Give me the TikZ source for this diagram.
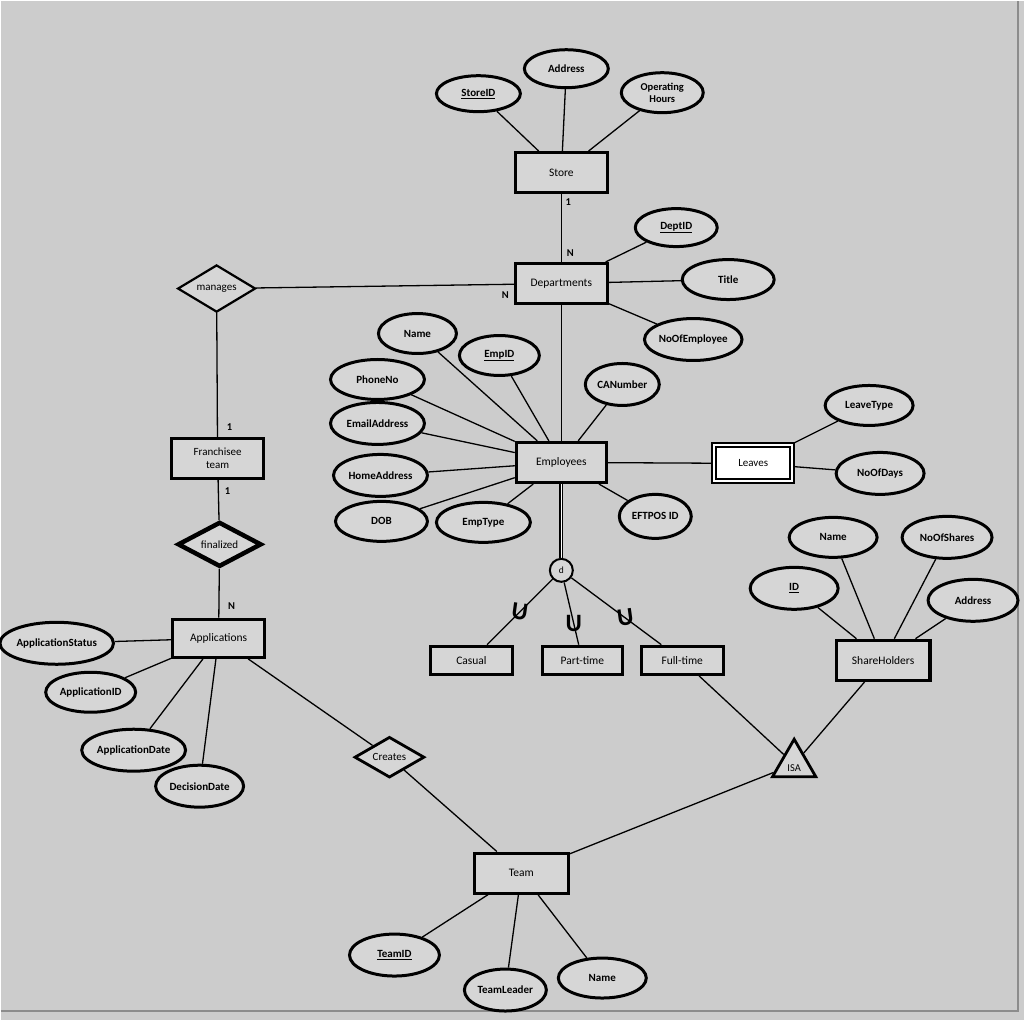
\documentclass[tikz,border=0pt]{standalone}
\usepackage{fontspec}
\setmainfont{Carlito}
\usetikzlibrary{shapes.geometric}
\definecolor{bgc}{RGB}{204,204,204}
\definecolor{shf}{RGB}{214,214,214}
\definecolor{framec}{RGB}{140,140,140}
\pgfdeclarelayer{back}
\pgfdeclarelayer{lines}
\pgfsetlayers{back,lines,main}
\begin{document}
\begin{tikzpicture}[x=1pt,y=-1pt,
 attr/.style={ellipse, draw, line width=3pt, fill=shf, inner sep=0pt, font=\fontsize{11}{11}\selectfont\bfseries, align=center},
 ent/.style={rectangle, draw, line width=3.2pt, fill=shf, inner sep=0pt, font=\fontsize{11.5}{12}\selectfont, align=center},
 rel/.style={diamond, draw, fill=shf, inner sep=0pt, font=\fontsize{11}{12}\selectfont},
 conn/.style={line width=1.3pt},
 card/.style={font=\fontsize{10.5}{11}\selectfont\bfseries, inner sep=0pt},
 subs/.style={font=\fontsize{25}{25}\selectfont\bfseries, inner sep=0pt}
]
\begin{pgfonlayer}{back}
\fill[bgc] (0,0) rectangle (1024,1020);
\draw[framec, line width=1.5pt] (0,1011) -- (1018,1011) -- (1018,0);
\end{pgfonlayer}
\useasboundingbox (0,0) rectangle (1024,1020);

% Store
\node[attr, minimum width=84, minimum height=36] (storeid) at (478,93) {\underline{StoreID}};
\node[attr, minimum width=84, minimum height=38] (saddr) at (566,68) {Address};
\node[attr, minimum width=82, minimum height=40, font=\fontsize{10.5}{11.5}\selectfont\bfseries] (ophours) at (662,92) {Operating\\Hours};
\node[ent, minimum width=92, minimum height=40] (store) at (561,172) {Store};
% Departments
\node[attr, minimum width=82, minimum height=38] (deptid) at (676,227) {\underline{DeptID}};
\node[ent, minimum width=92, minimum height=40] (dept) at (561,283) {Departments};
\node[attr, minimum width=92, minimum height=40] (title) at (728,279) {Title};
\node[attr, minimum width=96, minimum height=42] (noemp) at (693,339) {NoOfEmployee};
% manages / franchisee
\node[rel, line width=2.2pt, minimum width=78, minimum height=40] (manages) at (216,288) {manages};
\node[ent, minimum width=92, minimum height=40, font=\fontsize{11}{13}\selectfont] (franch) at (217,458) {Franchisee\\team};
\node[rel, line width=4.5pt, minimum width=84, minimum height=42] (final) at (219,544) {finalized};
\node[ent, minimum width=92, minimum height=38] (appl) at (218,638) {Applications};
\node[attr, minimum width=110, minimum height=42] (astatus) at (56,643) {ApplicationStatus};
\node[attr, minimum width=90, minimum height=40] (aid) at (90,692) {ApplicationID};
\node[attr, minimum width=92, minimum height=42] (adate) at (133,750) {ApplicationDate};
\node[attr, minimum width=88, minimum height=42] (ddate) at (199,786) {DecisionDate};
\node[rel, line width=2.8pt, minimum width=70, minimum height=40] (creates) at (389,757) {Creates};
% Team
\node[ent, minimum width=94, minimum height=40] (team) at (521,873) {Team};
\node[attr, minimum width=90, minimum height=42] (teamid) at (394,955) {\underline{TeamID}};
\node[attr, minimum width=82, minimum height=42] (tleader) at (505,990) {TeamLeader};
\node[attr, minimum width=88, minimum height=40] (tname) at (602,978) {Name};
% Employees
\node[ent, minimum width=90, minimum height=40] (emp) at (561,462) {Employees};
\node[attr, minimum width=78, minimum height=40] (ename) at (417,333) {Name};
\node[attr, minimum width=80, minimum height=40] (empid) at (499,355) {\underline{EmpID}};
\node[attr, minimum width=94, minimum height=40] (phone) at (377,379) {PhoneNo};
\node[attr, minimum width=74, minimum height=42] (canum) at (622,384) {CANumber};
\node[attr, minimum width=94, minimum height=42] (email) at (377,423) {EmailAddress};
\node[attr, minimum width=94, minimum height=42] (home) at (380,475) {HomeAddress};
\node[attr, minimum width=92, minimum height=40] (dob) at (381,521) {DOB};
\node[attr, minimum width=94, minimum height=40] (etype) at (483,522) {EmpType};
\node[attr, minimum width=72, minimum height=44] (eftpos) at (655,516) {EFTPOS ID};
% Leaves
\node[draw, double, double distance=2pt, line width=2pt, fill=white, minimum width=78, minimum height=36, inner sep=0pt, font=\fontsize{11}{11}\selectfont] (leaves) at (753,463) {Leaves};
\node[attr, minimum width=88, minimum height=40] (ltype) at (869,405) {LeaveType};
\node[attr, minimum width=88, minimum height=42] (ndays) at (880,473) {NoOfDays};
% specialisation
\node[circle, draw, line width=2pt, fill=shf, minimum size=23, inner sep=0pt, font=\fontsize{9.5}{10}\selectfont] (dcirc) at (561,570) {d};
\node[ent, minimum width=82, minimum height=28] (casual) at (471,660) {Casual};
\node[ent, minimum width=80, minimum height=28] (part) at (582,660) {Part-time};
\node[ent, minimum width=82, minimum height=28] (full) at (682,660) {Full-time};
% ShareHolders
\node[ent, minimum width=94, minimum height=40] (share) at (883,660) {ShareHolders};
\node[attr, minimum width=88, minimum height=40] (shname) at (833,537) {Name};
\node[attr, minimum width=90, minimum height=42] (nshares) at (947,537) {NoOfShares};
\node[attr, minimum width=88, minimum height=42] (shid) at (794,588) {\underline{ID}};
\node[attr, minimum width=90, minimum height=42] (shaddr) at (973,600) {Address};
% ISA
\node[regular polygon, regular polygon sides=3, draw, line width=2.8pt, fill=shf, minimum size=50, inner sep=0pt] (isa) at (794,764) {};
\node[inner sep=0pt, font=\fontsize{10.5}{10}\selectfont] (isatxt) at (794,768) {ISA};

% cardinalities
\node[card] (c1) at (568,201) {1};
\node[card] (c2) at (570,253) {N};
\node[card] (c3) at (505,295) {N};
\node[card] (c4) at (229,427) {1};
\node[card] (c5) at (227,491) {1};
\node[card] (c6) at (231,606) {N};

% ---- connectors (behind nodes) ----
\begin{pgfonlayer}{lines}
\draw[conn] (storeid) -- (store);
\draw[conn] (saddr) -- (store);
\draw[conn] (ophours) -- (store);
\draw[conn] (store) -- (dept);
\draw[conn] (deptid) -- (dept);
\draw[conn] (title) -- (dept);
\draw[conn] (noemp) -- (dept);
\draw[conn] (manages) -- (dept);
\draw[conn] (manages) -- (franch);
\draw[conn] (franch) -- (final);
\draw[conn] (final) -- (appl);
\draw[conn] (dept) -- (emp);
\draw[conn] (astatus) -- (appl);
\draw[conn] (aid) -- (appl);
\draw[conn] (adate) -- (appl);
\draw[conn] (ddate) -- (appl);
\draw[conn] (appl) -- (creates);
\draw[conn] (creates) -- (team);
\draw[conn] (teamid) -- (team);
\draw[conn] (tleader) -- (team);
\draw[conn] (tname) -- (team);
\draw[conn] (ename) -- (emp);
\draw[conn] (empid) -- (emp);
\draw[conn] (phone) -- (emp);
\draw[conn] (email) -- (emp);
\draw[conn] (home) -- (emp);
\draw[conn] (dob) -- (emp);
\draw[conn] (etype) -- (emp);
\draw[conn] (canum) -- (emp);
\draw[conn] (eftpos) -- (emp);
\draw[conn] (emp) -- (leaves);
\draw[conn] (ltype) -- (leaves);
\draw[conn] (ndays) -- (leaves);
\draw[line width=1.1pt, double, double distance=1.6pt] (emp) -- (dcirc);
\draw[conn] (dcirc) -- node[subs, pos=0.5, rotate=-8] (u1) {U} (casual);
\draw[conn] (dcirc) -- node[subs, pos=0.66] (u2) {U} (part);
\draw[conn] (dcirc) -- node[subs, pos=0.6, rotate=8] (u3) {U} (full);
\draw[conn] (full) -- (isa);
\draw[conn] (share) -- (isa);
\draw[conn] (isa) -- (team);
\draw[conn] (shid) -- (share);
\draw[conn] (shname) -- (share);
\draw[conn] (nshares) -- (share);
\draw[conn] (shaddr) -- (share);
\end{pgfonlayer}
\end{tikzpicture}
\end{document}
